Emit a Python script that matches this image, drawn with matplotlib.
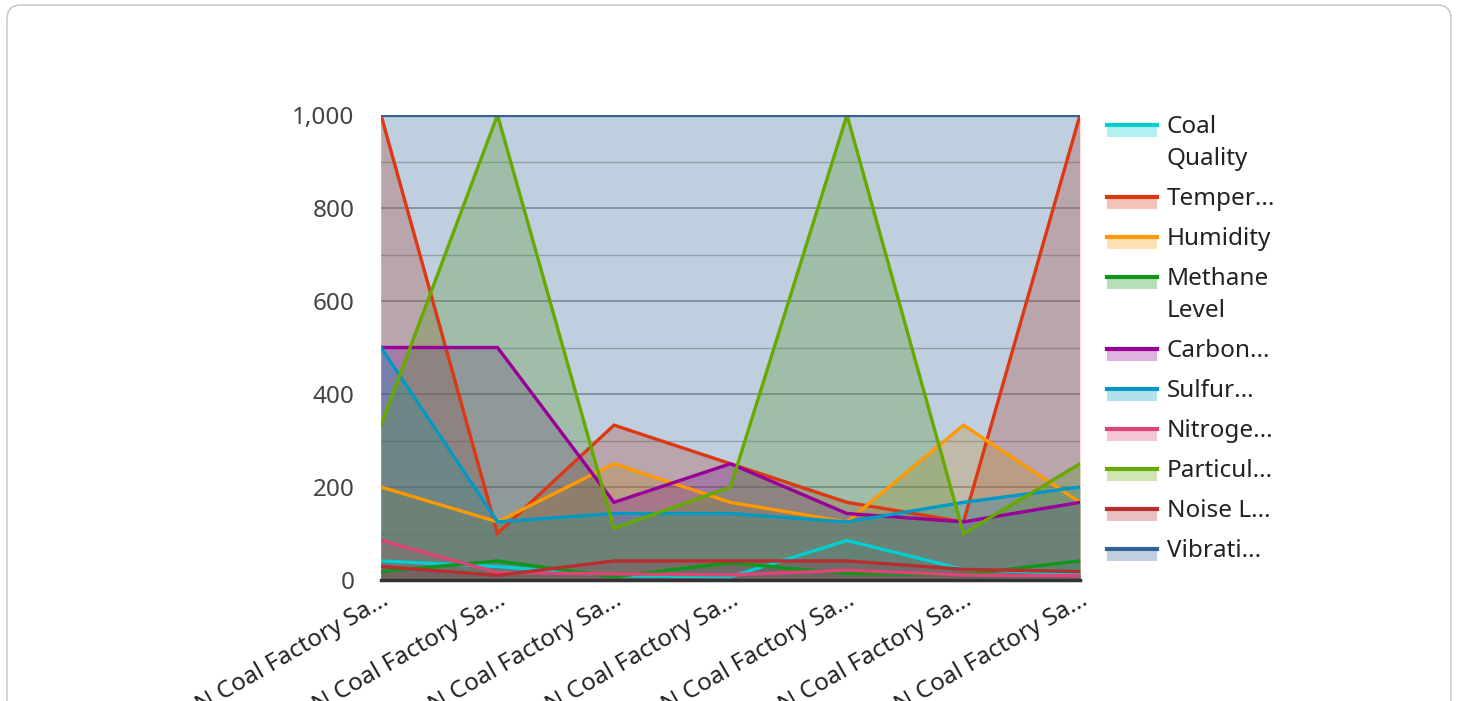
import matplotlib.pyplot as plt
from matplotlib.patches import Rectangle, FancyBboxPatch
from matplotlib.lines import Line2D

plt.rcParams['font.family'] = ['Noto Sans', 'DejaVu Sans']

categories = ["N Coal Factory Sa..."] * 7

series_names = ["Coal Quality", "Temperature", "Humidity", "Methane Level", "Carbon Monoxide",
                "Sulfur Dioxide", "Nitrogen Dioxide", "Particulate Matter", "Noise Level", "Vibration"]
legend_labels = ["Coal\nQuality", "Temper...", "Humidity", "Methane\nLevel", "Carbon...",
                 "Sulfur...", "Nitroge...", "Particul...", "Noise L...", "Vibrati..."]

coal_quality = [41, 29, 9, 7, 85, 23, 13]
temperature = [1000, 100, 333, 250, 167, 125, 1000]
humidity = [200, 125, 250, 167, 125, 333, 167]
methane = [18, 41, 7, 37, 14, 12, 41]
carbon = [500, 500, 167, 250, 143, 125, 167]
sulfur = [500, 125, 143, 143, 125, 167, 200]
nitrogen = [85, 16, 13, 11, 21, 11, 9]
particulate = [333, 1000, 111, 200, 1000, 100, 250]
noise = [29, 10, 41, 41, 41, 23, 18]
vibration = [1000, 1000, 1000, 1000, 1000, 1000, 1000]

data = [coal_quality, temperature, humidity, methane, carbon,
        sulfur, nitrogen, particulate, noise, vibration]
colors = ['#00CED1', '#DC3912', '#FF9900', '#109618', '#990099',
          '#0099C6', '#DD4477', '#66AA00', '#B82E2E', '#316395']

W, H = 1458, 701
fig = plt.figure(figsize=(W / 100, H / 100), dpi=100)

# card background
bg = fig.add_axes([0, 0, 1, 1])
bg.set_xlim(0, W)
bg.set_ylim(H, 0)
bg.axis('off')
bg.add_patch(FancyBboxPatch((7, 5), 1444, 720, boxstyle="round,pad=0,rounding_size=14",
                            fc='white', ec='#cccccc', lw=1.2))

ax = fig.add_axes([381 / W, (H - 580) / H, 699 / W, 465 / H])
ax.patch.set_alpha(0)
x = list(range(len(categories)))
for vals, c in zip(data, colors):
    ax.fill_between(x, 0, vals, color=c, alpha=0.3, lw=0)
    ax.plot(x, vals, color=c, lw=2.4, solid_joinstyle='miter')

ax.set_xlim(0, len(categories) - 1)
ax.set_ylim(0, 1000)
ax.set_yticks(range(0, 1001, 200))
ax.set_yticklabels(['0', '200', '400', '600', '800', '1,000'])
ax.set_yticks(range(100, 1000, 200), minor=True)
ax.grid(True, which='major', axis='y', color='#999999', lw=1.2)
ax.grid(True, which='minor', axis='y', color='#bbbbbb', lw=1)
ax.set_axisbelow(True)
ax.tick_params(axis='y', which='both', length=0, labelsize=17.5, labelcolor='#444444', pad=19)
ax.set_xticks(x)
ax.set_xticklabels(categories, rotation=30, ha='right', rotation_mode='anchor',
                   fontsize=17.5, color='#222222')
ax.tick_params(axis='x', length=0, pad=6)
for s in ['left', 'right', 'top']:
    ax.spines[s].set_visible(False)
ax.spines['bottom'].set_color('#333333')
ax.spines['bottom'].set_linewidth(2.5)

# legend
y = 126
for lab, c in zip(legend_labels, colors):
    bg.add_patch(Rectangle((1107, y - 1), 50, 12, fc=c, alpha=0.3, lw=0))
    bg.add_line(Line2D([1107, 1157], [y - 1, y - 1], color=c, lw=3))
    lines = lab.split('\n')
    for i, ln in enumerate(lines):
        bg.text(1167, y + 7 + 32 * i, ln, fontsize=17.5, color='#222222',
                va='baseline', ha='left')
    y += 40 + 32 * (len(lines) - 1)

fig.savefig('out.png', dpi=100)
